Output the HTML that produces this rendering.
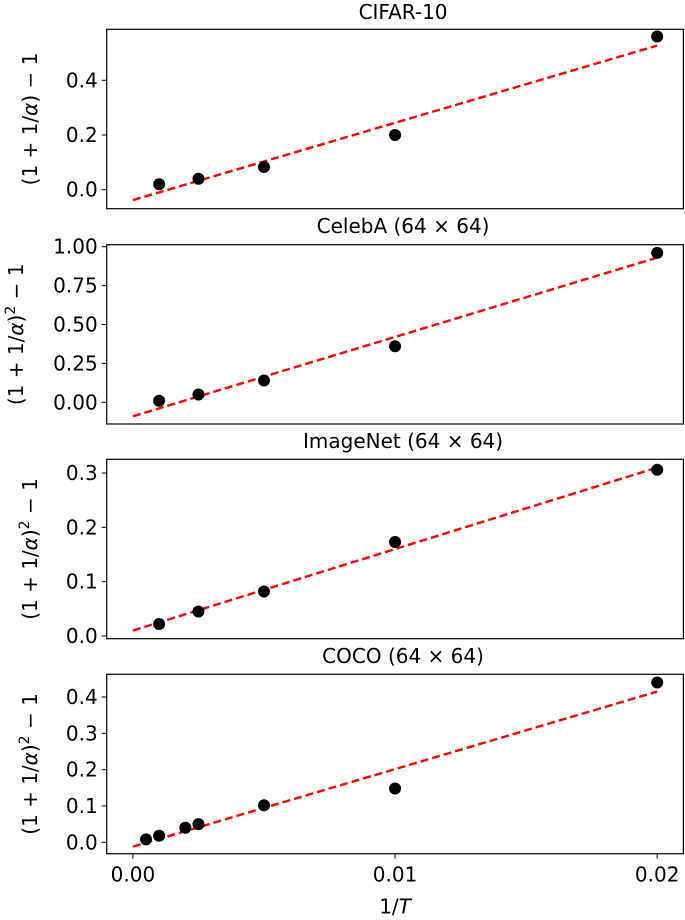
<!DOCTYPE html>
<html><head><meta charset="utf-8"><style>
html,body{margin:0;padding:0;background:#fff;width:685px;height:920px;overflow:hidden}
svg text{font-family:"DejaVu Sans","Liberation Sans",sans-serif;fill:#000}
</style></head><body>
<svg id="chart" width="685" height="920" xmlns="http://www.w3.org/2000/svg"></svg>
<script>
const panelTitles = ["CIFAR-10", "CelebA (64 × 64)", "ImageNet (64 × 64)", "COCO (64 × 64)"];
const panelNames = ["cifar10", "celeba", "imagenet", "coco"];
const xTicks = [0.00, 0.01, 0.02];
const xTickLabels = ["0.00", "0.01", "0.02"];
const cifarX = [0.001, 0.0025, 0.005, 0.01, 0.02];
const cifarY = [0.02, 0.04, 0.083, 0.20, 0.56];
const cifarFit = [-0.038, 0.527];
const cifarTicks = [0.0, 0.2, 0.4];
const cifarTickLabels = ["0.0", "0.2", "0.4"];
const celebaX = [0.001, 0.0025, 0.005, 0.01, 0.02];
const celebaY = [0.01, 0.05, 0.14, 0.36, 0.96];
const celebaFit = [-0.09, 0.93];
const celebaTicks = [0.0, 0.25, 0.5, 0.75, 1.0];
const celebaTickLabels = ["0.00", "0.25", "0.50", "0.75", "1.00"];
const imagenetX = [0.001, 0.0025, 0.005, 0.01, 0.02];
const imagenetY = [0.022, 0.045, 0.082, 0.173, 0.306];
const imagenetFit = [0.01, 0.31];
const imagenetTicks = [0.0, 0.1, 0.2, 0.3];
const imagenetTickLabels = ["0.0", "0.1", "0.2", "0.3"];
const cocoX = [0.0005, 0.001, 0.002, 0.0025, 0.005, 0.01, 0.02];
const cocoY = [0.008, 0.018, 0.04, 0.05, 0.102, 0.148, 0.44];
const cocoFit = [-0.012, 0.415];
const cocoTicks = [0.0, 0.1, 0.2, 0.3, 0.4];
const cocoTickLabels = ["0.0", "0.1", "0.2", "0.3", "0.4"];

const svg = document.getElementById('chart');
const NS = "http://www.w3.org/2000/svg";
function mk(tag, attrs, parent){const e=document.createElementNS(NS,tag);for(const k in attrs)e.setAttribute(k,attrs[k]);(parent||svg).appendChild(e);return e;}

const L = 106.7, R = 683.4;
const xmin = -0.001, xmax = 0.021;
function xs(v){return L + (v - xmin)/(xmax - xmin)*(R - L);}
const FS = 20;

const panels = [
  {top:29.3,bottom:208.7,v0:0,p0:189.7,v1:0.4,p1:80.3,X:cifarX,Y:cifarY,F:cifarFit,T:cifarTicks,TL:cifarTickLabels,sq:false,ty:11,lx:30},
  {top:244.7,bottom:424,v0:0,p0:402.3,v1:1.0,p1:246.7,X:celebaX,Y:celebaY,F:celebaFit,T:celebaTicks,TL:celebaTickLabels,sq:true,ty:225,lx:16},
  {top:459.3,bottom:638.7,v0:0,p0:636,v1:0.3,p1:473,X:imagenetX,Y:imagenetY,F:imagenetFit,T:imagenetTicks,TL:imagenetTickLabels,sq:true,ty:440,lx:30},
  {top:674.3,bottom:853.7,v0:0,p0:842.3,v1:0.4,p1:697,X:cocoX,Y:cocoY,F:cocoFit,T:cocoTicks,TL:cocoTickLabels,sq:true,ty:655,lx:30}
];

panels.forEach((p,i)=>{
  const ys = v => p.p0 + (v - p.v0)/(p.v1 - p.v0)*(p.p1 - p.p0);
  const g = mk('g',{});
  
  
  const t = mk('text',{x:(L+R)/2+8,y:p.ty+8,'text-anchor':'middle','font-size':FS},g);
  t.textContent = panelTitles[i];
  
  
  p.T.forEach((v,j)=>{
    const y = ys(v);
    const tk = mk('line',{x1:L-5,x2:L,y1:y,y2:y,stroke:'#000','stroke-width':1},g);
    
    
    const tl = mk('text',{x:L-9,y:y+7,'text-anchor':'end','font-size':FS},g);
    tl.textContent = p.TL[j];
    
    
  });
  const cy = (p.top+p.bottom)/2;
  const yl = mk('text',{x:0,y:0,'text-anchor':'middle','font-size':FS,transform:`translate(${p.lx+7},${cy}) rotate(-90)`},g);
  yl.innerHTML = p.sq ? '(1 + 1/<tspan font-style="italic">α</tspan>)<tspan dy="-8" font-size="14">2</tspan><tspan dy="8"> − 1</tspan>' : '(1 + 1/<tspan font-style="italic">α</tspan>) − 1';
  
  
  const fl = mk('line',{x1:xs(0),y1:ys(p.F[0]),x2:xs(0.02),y2:ys(p.F[1]),stroke:'#ff0000','stroke-width':2.4,'stroke-dasharray':'8,4'},g);
  
  
  p.X.forEach((xv,j)=>{
    const c = mk('circle',{cx:xs(xv),cy:ys(p.Y[j]),r:6,fill:'#000'},g);
    
    
  });
  const fr = mk('rect',{x:L,y:p.top,width:R-L,height:p.bottom-p.top,fill:'none',stroke:'#000','stroke-width':1.2},g);
  
  
  if(i===3){
    xTicks.forEach((v,j)=>{
      const x = xs(v);
      const tk = mk('line',{x1:x,x2:x,y1:p.bottom,y2:p.bottom+5,stroke:'#000','stroke-width':1},g);
      
      
      const tl = mk('text',{x:x,y:p.bottom+28,'text-anchor':'middle','font-size':FS},g);
      tl.textContent = xTickLabels[j];
      
      
    });
    const xl = mk('text',{x:xs(0.01),y:p.bottom+60,'text-anchor':'middle','font-size':FS},g);
    xl.innerHTML = '1/<tspan font-style="italic">T</tspan>';
    
    
  }
});
</script>
</body></html>
